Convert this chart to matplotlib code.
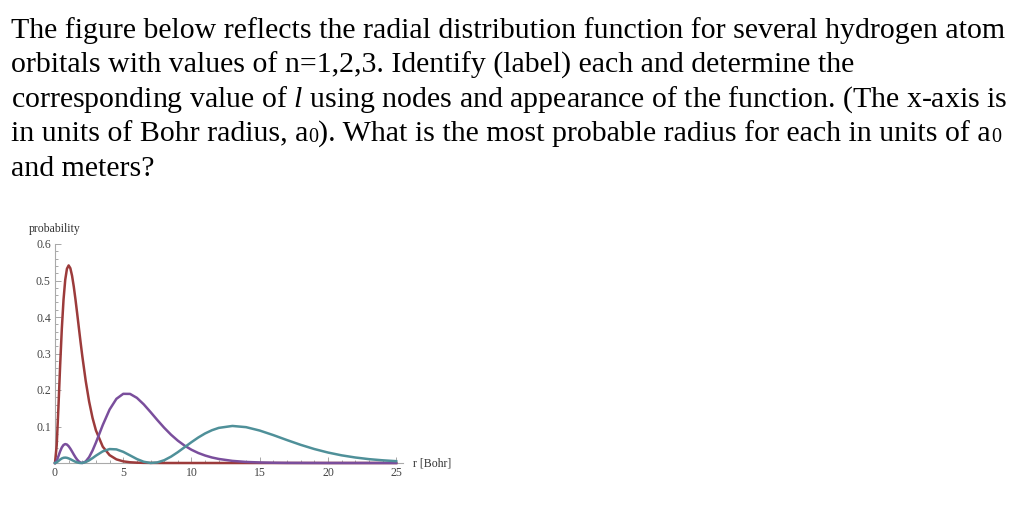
import matplotlib
matplotlib.use('Agg')
import matplotlib.pyplot as plt
from matplotlib.ticker import MultipleLocator, FixedLocator
import numpy as np

# radial distribution values (r in Bohr)
r = np.array([0, 0.125, 0.25, 0.375, 0.5, 0.625, 0.75, 0.875, 1, 1.125, 1.25, 1.375,
              1.5, 1.625, 1.75, 1.875, 2, 2.25, 2.5, 2.75, 3, 3.5, 4, 4.5, 5,
              5.5, 6, 6.5, 7, 7.5, 8, 8.5, 9, 9.5, 10, 10.5, 11, 11.5, 12, 13,
              14, 15, 16, 17, 18, 19, 20, 21, 22, 23, 24, 25])
p_red = np.array([0, 0.0487, 0.1516, 0.2657, 0.3679, 0.4477, 0.5020, 0.5322, 0.5413,
                  0.5336, 0.5130, 0.4835, 0.4481, 0.4096, 0.3699, 0.3307, 0.2931,
                  0.2250, 0.1684, 0.1236, 0.0892, 0.0447, 0.0215, 0.0100, 0.0045,
                  0.0020, 0.0009, 0.0004, 0.0002, 0.0001, 0, 0, 0, 0, 0, 0, 0, 0,
                  0, 0, 0, 0, 0, 0, 0, 0, 0, 0, 0, 0, 0, 0])
p_purple = np.array([0, 0.0061, 0.0186, 0.0319, 0.0427, 0.0494, 0.0519, 0.0505, 0.0460,
                     0.0393, 0.0315, 0.0233, 0.0157, 0.0091, 0.0042, 0.0011, 0,
                     0.0042, 0.0160, 0.0340, 0.0560, 0.1040, 0.1465, 0.1758, 0.1895,
                     0.1893, 0.1785, 0.1608, 0.1396, 0.1176, 0.0966, 0.0776, 0.0612,
                     0.0475, 0.0363, 0.0274, 0.0205, 0.0151, 0.0111, 0.0058, 0.0029,
                     0.0015, 0.0007, 0.0003, 0.0002, 0.0001, 0, 0, 0, 0, 0, 0])
p_teal = np.array([0, 0.0018, 0.0055, 0.0094, 0.0125, 0.0143, 0.0148, 0.0142, 0.0126,
                   0.0105, 0.0080, 0.0056, 0.0034, 0.0017, 0.0005, 0.0000, 0.0002,
                   0.0026, 0.0073, 0.0134, 0.0201, 0.0319, 0.0382, 0.0373, 0.0306,
                   0.0208, 0.0109, 0.0034, 0.0001, 0.0016, 0.0076, 0.0174, 0.0297,
                   0.0434, 0.0571, 0.0699, 0.0810, 0.0898, 0.0962, 0.1015, 0.0982,
                   0.0889, 0.0764, 0.0628, 0.0498, 0.0383, 0.0287, 0.0210, 0.0151,
                   0.0106, 0.0074, 0.0050])

x_ticks = [0, 5, 10, 15, 20, 25]
y_ticks = [0.1, 0.2, 0.3, 0.4, 0.5, 0.6]
y_tick_labels = ['0.1', '0.2', '0.3', '0.4', '0.5', '0.6']

question_lines = [
    [('The figure below reflects the radial distribution function for several hydrogen atom', {})],
    [('orbitals with values of n=1,2,3. Identify (label) each and determine the', {})],
    [(r'corresponding value of $\mathit{l}$ using nodes and appearance of the function. (The x-axis is', {})],
    [('in units of Bohr radius, a', {}), ('0', {'fontsize': 14.5}),
     ('). What is the most probable radius for each in units of a', {}), ('0', {'fontsize': 14.5})],
    [('and meters?', {})],
]

plt.rcParams.update({
    'font.family': 'serif',
    'font.serif': ['Liberation Serif', 'DejaVu Serif'],
    'mathtext.fontset': 'custom',
    'mathtext.rm': 'Liberation Serif',
    'mathtext.it': 'Liberation Serif:italic',
})

W, H = 1024, 507
fig = plt.figure(figsize=(W / 100, H / 100), dpi=100)
renderer = fig.canvas.get_renderer()

# question text, line by line
baseline = 38
for parts in question_lines:
    x = 11
    for s, kw in parts:
        opts = dict(fontsize=21.5, color='black', ha='left', va='baseline')
        opts.update(kw)
        t = fig.text(x / W, 1 - baseline / H, s, **opts)
        x = t.get_window_extent(renderer).x1
    baseline += 34.5

# chart
ax = fig.add_axes([55 / W, 44 / H, 348 / W, 219 / H])
ax.set_xlim(0, 25.5)
ax.set_ylim(0, 0.6)

col_red = '#9c3b3b'
col_purple = '#7a4e9c'
col_teal = '#4f9099'
ax.plot(r, p_red, color=col_red, lw=1.8, clip_on=False, zorder=3)
ax.plot(r, p_purple, color=col_purple, lw=1.8, clip_on=False, zorder=4)
ax.plot(r, p_teal, color=col_teal, lw=1.8, clip_on=False, zorder=5)

for side in ['top', 'right']:
    ax.spines[side].set_visible(False)
for side in ['left', 'bottom']:
    ax.spines[side].set_color('#aaaaaa')
    ax.spines[side].set_linewidth(0.8)

ax.xaxis.set_major_locator(FixedLocator(x_ticks))
ax.xaxis.set_minor_locator(MultipleLocator(1))
ax.yaxis.set_major_locator(FixedLocator(y_ticks))
ax.yaxis.set_minor_locator(MultipleLocator(0.02))
ax.set_yticklabels(y_tick_labels)
ax.tick_params(which='both', direction='in', color='#999999', width=0.6,
               labelsize=8.5, labelcolor='#444444', pad=3)
ax.tick_params(which='major', length=4)
ax.tick_params(which='minor', length=2)

ax.annotate('probability', xy=(0, 0.6), xytext=(0, 11), textcoords='offset points',
            ha='center', va='center', fontsize=8.5, color='#333333', annotation_clip=False)
ax.annotate('r [Bohr]', xy=(25.5, 0), xytext=(7, 0), textcoords='offset points',
            ha='left', va='center', fontsize=8.5, color='#333333', annotation_clip=False)

fig.savefig('out.png', dpi=100, facecolor='white')
